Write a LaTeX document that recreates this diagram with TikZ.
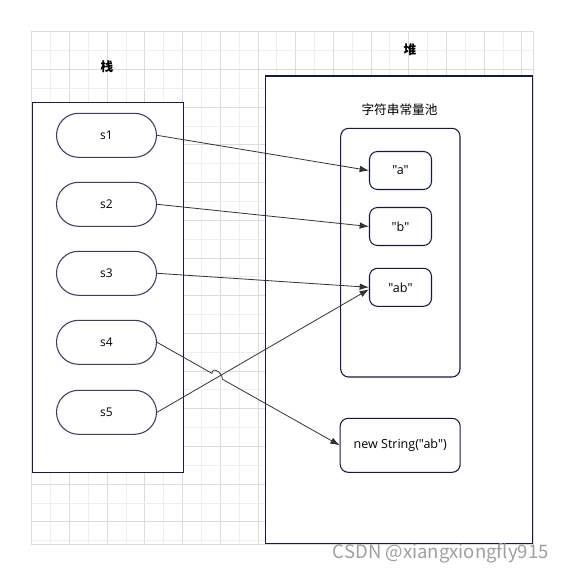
\documentclass[tikz,border=0pt]{standalone}
\usepackage{fontspec}
\newfontfamily\lat{Open Sans}
\newfontfamily\cjk{Noto Sans CJK SC}
\usetikzlibrary{arrows.meta,calc}
\definecolor{navy}{HTML}{141A46}
\definecolor{ovalc}{HTML}{3A3E66}
\definecolor{arr}{HTML}{333333}
\definecolor{gmin}{HTML}{EFEFEF}
\definecolor{gmaj}{HTML}{DCDCDC}
\tikzset{
  box/.style={draw=navy, line width=0.9pt, fill=white},
  oval/.style={draw=ovalc, line width=0.8pt, fill=white, rounded corners=22*0.75pt,
    minimum width=100*0.75pt, minimum height=44*0.75pt, inner sep=0pt, font=\lat\fontsize{9}{11}\selectfont},
  sbox/.style={draw=navy, line width=0.8pt, fill=white, rounded corners=6pt,
    minimum width=62*0.75pt, minimum height=38*0.75pt, inner sep=0pt, font=\lat\fontsize{9.4}{11}\selectfont},
  lab/.style={font=\cjk\fontsize{9.5}{11}\selectfont},
  blab/.style={font=\cjk\bfseries\fontsize{9.5}{11}\selectfont},
  conn/.style={draw=arr, line width=0.6pt, -{Latex[length=7pt,width=5pt]}}
}
\begin{document}
\begin{tikzpicture}[x=0.75pt,y=-0.75pt]
\useasboundingbox (0,0) rectangle (565,574);
% grid
\foreach \i in {0,...,26}{
  \pgfmathsetmacro\gx{31.7+\i*18.85}
  \pgfmathtruncatemacro\ev{mod(\i,2)}
  \ifnum\ev=0 \draw[gmaj,line width=0.6pt] (\gx,31.7) -- (\gx,544.3);
  \else \draw[gmin,line width=0.6pt] (\gx,31.7) -- (\gx,544.3); \fi
}
\foreach \j in {0,...,27}{
  \pgfmathsetmacro\gy{31.7+\j*18.85}
  \pgfmathtruncatemacro\ev{mod(\j,2)}
  \ifnum\ev=0 \draw[gmaj,line width=0.6pt] (31.7,\gy) -- (533.3,\gy);
  \else \draw[gmin,line width=0.6pt] (31.7,\gy) -- (533.3,\gy); \fi
}
\draw[gmaj,line width=0.8pt] (31.7,31.7) rectangle (533.3,544.3);

% labels
\node[blab] (stacklab) at (107,67) {栈};
\node[blab] (heaplab) at (410,50) {堆};

% stack and heap
\draw[box] (32.3,102.3) rectangle (183.3,472.3);
\draw[box] (265.7,76) rectangle (532.3,543.3);

% pool
\draw[box, rounded corners=6pt, line width=0.8pt] (340.7,128.3) rectangle (460,377);
\node[lab] (poollab) at (399.5,110) {字符串常量池};

% ovals
\node[oval] (s1) at (106.5,135.3) {s1};
\node[oval] (s2) at (106.5,204.3) {s2};
\node[oval] (s3) at (106.5,273.3) {s3};
\node[oval] (s4) at (106.5,342.3) {s4};
\node[oval] (s5) at (106.5,412.3) {s5};

% string boxes
\node[sbox] (a) at (400.5,170.5) {"a"};
\node[sbox] (b) at (400.5,226.5) {"b"};
\node[sbox] (ab) at (400.5,287.3) {"ab"};
\node[sbox, minimum width=120*0.75pt, minimum height=54*0.75pt] (ns) at (400.2,445.3) {new String("ab")};

% connectors
\draw[conn] (s1.east) -- (a.west);
\draw[conn] (s2.east) -- (b.west);
\draw[conn] (s3.east) -- (ab.west);
\draw[conn] (s5.east) -- ($(ab.west)+(0,2)$);
\coordinate (X) at (217.2,376.3);
\draw[conn] (s4.east) -- ($(X)!6*0.75pt!(s4.east)$)
   .. controls +(0,-7) and +(0,-7) .. ($(X)!6*0.75pt!(ns.west)$) -- (ns.west);

% watermark
\node[font=\cjk\fontsize{13.9}{16}\selectfont, text=gray!75, anchor=east, inner sep=0pt] (wm) at (549,553.5) {CSDN @xiangxiongfly915};
\end{tikzpicture}
\end{document}
